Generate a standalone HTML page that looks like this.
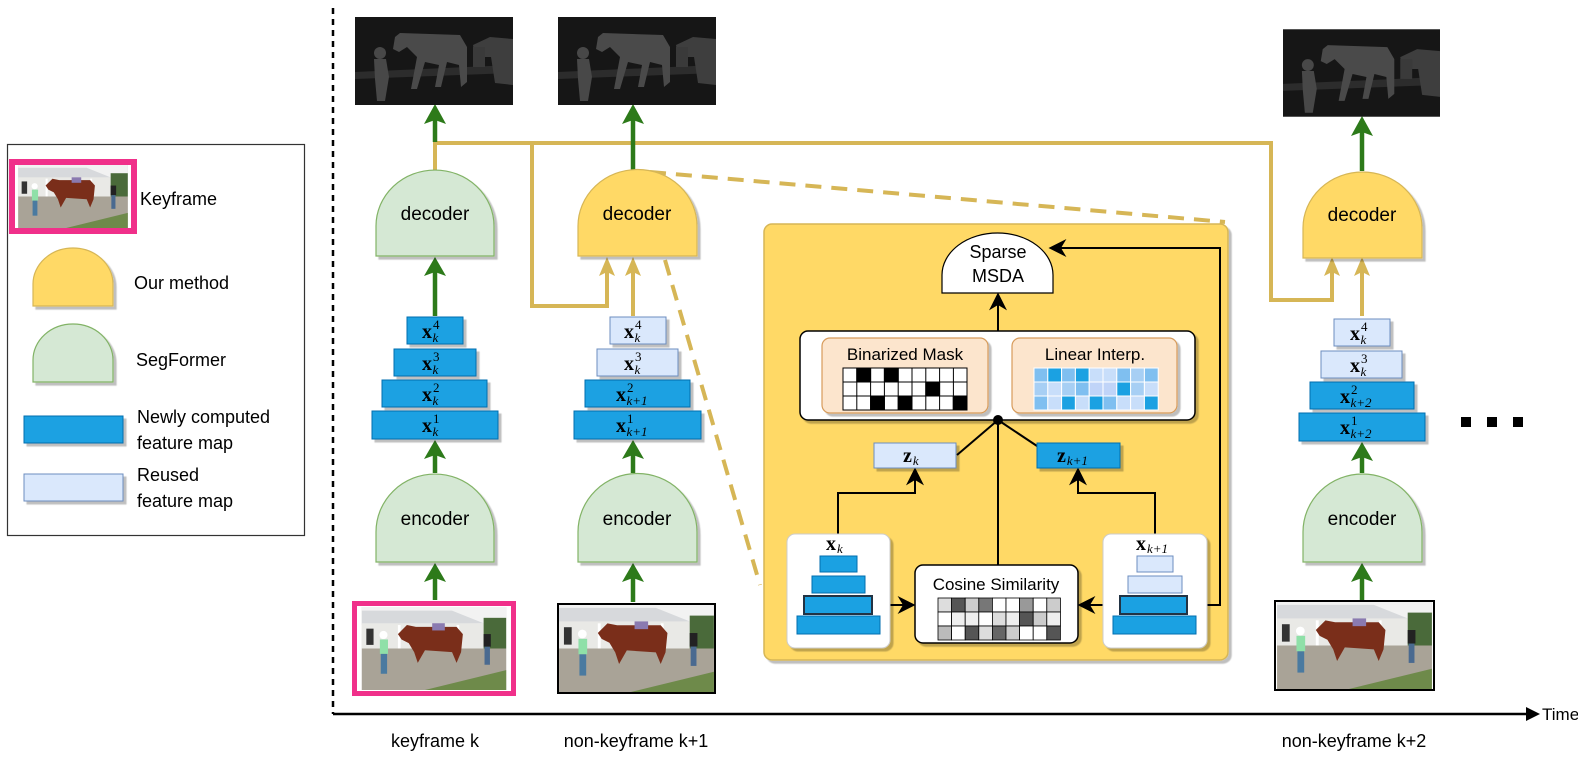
<!DOCTYPE html>
<html><head><meta charset="utf-8"><style>
html,body{margin:0;padding:0;background:#fff}
svg{display:block}
.t{font-family:"Liberation Sans",sans-serif;fill:#000}
.m{font-family:"Liberation Serif",serif;font-weight:bold;font-size:20px;fill:#000}
.sp{font-size:13px;font-weight:normal}
.sb{font-size:13px;font-weight:normal;font-style:italic}
</style></head><body>
<svg width="1578" height="758" viewBox="0 0 1578 758" xmlns="http://www.w3.org/2000/svg">
<defs>
<filter id="sh" x="-10%" y="-10%" width="130%" height="130%"><feDropShadow dx="3" dy="3" stdDeviation="0.5" flood-color="#000" flood-opacity="0.25"/></filter>
<marker id="ag" viewBox="0 0 10 10" refX="5" refY="5" markerWidth="5" markerHeight="5" orient="auto-start-reverse"><path d="M0,0 L10,5 L0,10 L3,5 Z" fill="#2d7a1a"/></marker>
<marker id="at" viewBox="0 0 10 10" refX="5" refY="5" markerWidth="5" markerHeight="5" orient="auto-start-reverse"><path d="M0,0 L10,5 L0,10 L3,5 Z" fill="#d6b656"/></marker>
<marker id="ak" viewBox="0 0 10 10" refX="8" refY="5" markerWidth="9" markerHeight="9" orient="auto-start-reverse"><path d="M0,0 L10,5 L0,10 L3,5 Z" fill="#000"/></marker>
<symbol id="photo" viewBox="0 0 160 92">
<rect width="160" height="92" fill="#c9c6c0"/>
<rect width="160" height="30" fill="#f2f2f2"/>
<path d="M0,4 L100,4 L135,18 L0,20 Z" fill="#d7d9dc"/>
<rect x="0" y="18" width="135" height="28" fill="#e9e9e6"/>
<rect x="5" y="24" width="8" height="18" fill="#333"/>
<rect x="40" y="20" width="3" height="26" fill="#fff"/>
<rect x="105" y="20" width="3" height="26" fill="#fff"/>
<rect x="135" y="12" width="25" height="34" fill="#4a6a3a"/>
<rect x="0" y="46" width="160" height="46" fill="#a9a397"/>
<path d="M70,92 L160,70 L160,92 Z" fill="#6e8a4a"/>
<path d="M40,30 L50,20 L60,22 L105,22 L112,30 L110,50 L105,62 L100,50 L70,48 L62,62 L58,50 L52,40 L44,36 Z" fill="#7a2e1a"/>
<rect x="78" y="18" width="14" height="8" fill="#8a7ab0"/>
<rect x="20" y="36" width="9" height="16" fill="#8fe0a8"/>
<rect x="21" y="52" width="7" height="22" fill="#4a7aa0"/>
<circle cx="24" cy="31" r="4.5" fill="#fff"/>
<rect x="135" y="30" width="8" height="14" fill="#222"/>
<rect x="136" y="44" width="6" height="20" fill="#4a6a90"/>
</symbol>
<symbol id="seg" viewBox="0 0 158 88">
<rect width="158" height="88" fill="#161616"/>
<path d="M0,55 L158,48 L158,56 L0,62 Z" fill="#2c2c2c"/>
<path d="M40,20 L45,16 L105,18 L112,30 L112,65 L106,70 L104,48 L92,45 L86,70 L80,70 L84,48 L70,45 L62,72 L56,72 L62,40 L52,30 L44,35 L38,32 Z" fill="#4a4a4a"/>
<circle cx="25" cy="36" r="6" fill="#484848"/>
<path d="M19,42 L31,42 L34,60 L30,84 L22,84 L20,62 Z" fill="#484848"/>
<path d="M118,28 L135,20 L158,22 L158,68 L140,66 L136,40 L120,40 Z" fill="#3e3e3e"/>
<rect x="118" y="30" width="12" height="20" fill="#3a3a3a"/>
</symbol>
</defs>

<!-- legend -->
<rect x="7.5" y="144.5" width="297" height="391" fill="#fff" stroke="#333" stroke-width="1.2"/>
<rect x="12" y="162" width="122" height="69" fill="none" stroke="#f0308a" stroke-width="6"/>
<use href="#photo" x="15" y="165" width="116" height="63" preserveAspectRatio="none"/>
<text class="t" x="140" y="205" font-size="18">Keyframe</text>
<path d="M33,306 L33,284 A40,36 0 0 1 113,284 L113,306 Z" fill="#ffd966" stroke="#d6b656" stroke-width="1.2" filter="url(#sh)"/>
<text class="t" x="134" y="289" font-size="18">Our method</text>
<path d="M33,382 L33,360 A40,36 0 0 1 113,360 L113,382 Z" fill="#d5e8d4" stroke="#82b366" stroke-width="1.2" filter="url(#sh)"/>
<text class="t" x="136" y="366" font-size="18">SegFormer</text>
<rect x="24" y="416" width="99" height="27" fill="#1ba1e2" stroke="#006eaf" filter="url(#sh)"/>
<text class="t" x="137" y="423" font-size="18">Newly computed</text>
<text class="t" x="137" y="449" font-size="18">feature map</text>
<rect x="24" y="474" width="99" height="27" fill="#dae8fc" stroke="#6c8ebf" filter="url(#sh)"/>
<text class="t" x="137" y="481" font-size="18">Reused</text>
<text class="t" x="137" y="507" font-size="18">feature map</text>

<!-- dashed divider and time axis -->
<line x1="333" y1="8" x2="333" y2="714" stroke="#000" stroke-width="2.5" stroke-dasharray="6 5"/>
<line x1="333" y1="714" x2="1528" y2="714" stroke="#000" stroke-width="2.5"/>
<path d="M1526,707 L1540,714 L1526,721 Z" fill="#000"/>
<text class="t" x="1542" y="720" font-size="17">Time</text>

<!-- tan connectors -->
<g fill="none" stroke="#d6b656" stroke-width="4">
<path d="M435,170 L435,143 L1271,143 L1271,300 L1332,300 L1332,268"/>
<path d="M532,143 L532,306 L607,306 L607,268"/>
<line x1="633" y1="316" x2="633" y2="268"/>
<line x1="1362" y1="316" x2="1362" y2="268"/>
<path d="M650,172 L1225,222" stroke-dasharray="16 10"/>
<path d="M665,260 L760,585" stroke-dasharray="16 10"/>
</g>
<g fill="#d6b656">
<path d="M599,276 L607,257 L615,276 L607,272 Z"/>
<path d="M625,276 L633,257 L641,276 L633,272 Z"/>
<path d="M1324,276 L1332,257 L1340,276 L1332,272 Z"/>
<path d="M1354,276 L1362,257 L1370,276 L1362,272 Z"/>
</g>

<!-- green arrows -->
<g stroke="#2d7a1a" stroke-width="4.5">
<line x1="435" y1="142" x2="435" y2="120"/>
<line x1="633" y1="170" x2="633" y2="120"/>
<line x1="1362" y1="171" x2="1362" y2="132"/>
<line x1="435" y1="316" x2="435" y2="272"/>
<line x1="435" y1="473" x2="435" y2="455"/>
<line x1="633" y1="473" x2="633" y2="455"/>
<line x1="1362" y1="473" x2="1362" y2="457"/>
<line x1="435" y1="600" x2="435" y2="578"/>
<line x1="633" y1="602" x2="633" y2="578"/>
<line x1="1362" y1="602" x2="1362" y2="578"/>
</g>
<g fill="#2d7a1a">
<path d="M424,124 L435,104 L446,124 L435,120 Z"/>
<path d="M622,124 L633,104 L644,124 L633,120 Z"/>
<path d="M1351,136 L1362,116 L1373,136 L1362,132 Z"/>
<path d="M424,276 L435,257 L446,276 L435,272 Z"/>
<path d="M424,459 L435,440 L446,459 L435,455 Z"/>
<path d="M622,459 L633,440 L644,459 L633,455 Z"/>
<path d="M1351,461 L1362,442 L1373,461 L1362,457 Z"/>
<path d="M424,582 L435,563 L446,582 L435,578 Z"/>
<path d="M622,582 L633,563 L644,582 L633,578 Z"/>
<path d="M1351,582 L1362,563 L1373,582 L1362,578 Z"/>
</g>

<!-- outputs -->
<use href="#seg" x="355" y="17" width="158" height="88" preserveAspectRatio="none"/>
<use href="#seg" x="558" y="17" width="158" height="88" preserveAspectRatio="none"/>
<use href="#seg" x="1283" y="29" width="157" height="88" preserveAspectRatio="none"/>

<!-- decoders -->
<path d="M376,256 L376,226 A59,56 0 0 1 494,226 L494,256 Z" fill="#d5e8d4" stroke="#82b366" stroke-width="1.2" filter="url(#sh)"/>
<text class="t" x="435" y="220" font-size="19" text-anchor="middle">decoder</text>
<path d="M578,256 L578,226 A59,56 0 0 1 697,226 L697,256 Z" fill="#ffd966" stroke="#d6b656" stroke-width="1.2" filter="url(#sh)"/>
<text class="t" x="637" y="220" font-size="19" text-anchor="middle">decoder</text>
<path d="M1303,258 L1303,228 A59.5,56 0 0 1 1422,228 L1422,258 Z" fill="#ffd966" stroke="#d6b656" stroke-width="1.2" filter="url(#sh)"/>
<text class="t" x="1362" y="221" font-size="19" text-anchor="middle">decoder</text>

<!-- encoders -->
<path d="M376,562 L376,532 A59,58 0 0 1 494,532 L494,562 Z" fill="#d5e8d4" stroke="#82b366" stroke-width="1.2" filter="url(#sh)"/>
<text class="t" x="435" y="525" font-size="19" text-anchor="middle">encoder</text>
<path d="M578,562 L578,532 A59,58 0 0 1 697,532 L697,562 Z" fill="#d5e8d4" stroke="#82b366" stroke-width="1.2" filter="url(#sh)"/>
<text class="t" x="637" y="525" font-size="19" text-anchor="middle">encoder</text>
<path d="M1303,562 L1303,532 A59.5,58 0 0 1 1422,532 L1422,562 Z" fill="#d5e8d4" stroke="#82b366" stroke-width="1.2" filter="url(#sh)"/>
<text class="t" x="1362" y="525" font-size="19" text-anchor="middle">encoder</text>

<!-- stacks column 1 -->
<g stroke="#006eaf" fill="#1ba1e2" filter="url(#sh)">
<rect x="407" y="317" width="56" height="27"/>
<rect x="394" y="349" width="82" height="27"/>
<rect x="382" y="380" width="105" height="27"/>
<rect x="372" y="411" width="126" height="28"/>
<rect x="585" y="380" width="105" height="27"/>
<rect x="574" y="411" width="127" height="28"/>
<rect x="1310" y="382" width="104" height="27"/>
<rect x="1299" y="413" width="126" height="28"/>
</g>
<g stroke="#6c8ebf" fill="#dae8fc" filter="url(#sh)">
<rect x="610" y="317" width="56" height="27"/>
<rect x="597" y="349" width="81" height="27"/>
<rect x="1334" y="319" width="56" height="27"/>
<rect x="1321" y="351" width="81" height="27"/>
</g>
<text class="m" x="422" y="338">x<tspan class="sp" dx="1" dy="-9">4</tspan><tspan class="sb" dx="-7" dy="13">k</tspan></text>
<text class="m" x="422" y="370">x<tspan class="sp" dx="1" dy="-9">3</tspan><tspan class="sb" dx="-7" dy="13">k</tspan></text>
<text class="m" x="422" y="401">x<tspan class="sp" dx="1" dy="-9">2</tspan><tspan class="sb" dx="-7" dy="13">k</tspan></text>
<text class="m" x="422" y="432">x<tspan class="sp" dx="1" dy="-9">1</tspan><tspan class="sb" dx="-7" dy="13">k</tspan></text>
<text class="m" x="624" y="338">x<tspan class="sp" dx="1" dy="-9">4</tspan><tspan class="sb" dx="-7" dy="13">k</tspan></text>
<text class="m" x="624" y="370">x<tspan class="sp" dx="1" dy="-9">3</tspan><tspan class="sb" dx="-7" dy="13">k</tspan></text>
<text class="m" x="616" y="401">x<tspan class="sp" dx="1" dy="-9">2</tspan><tspan class="sb" dx="-7" dy="13">k+1</tspan></text>
<text class="m" x="616" y="432">x<tspan class="sp" dx="1" dy="-9">1</tspan><tspan class="sb" dx="-7" dy="13">k+1</tspan></text>
<text class="m" x="1350" y="340">x<tspan class="sp" dx="1" dy="-9">4</tspan><tspan class="sb" dx="-7" dy="13">k</tspan></text>
<text class="m" x="1350" y="372">x<tspan class="sp" dx="1" dy="-9">3</tspan><tspan class="sb" dx="-7" dy="13">k</tspan></text>
<text class="m" x="1340" y="403">x<tspan class="sp" dx="1" dy="-9">2</tspan><tspan class="sb" dx="-7" dy="13">k+2</tspan></text>
<text class="m" x="1340" y="434">x<tspan class="sp" dx="1" dy="-9">1</tspan><tspan class="sb" dx="-7" dy="13">k+2</tspan></text>

<!-- dots -->
<rect x="1461" y="417" width="10" height="10" fill="#000"/>
<rect x="1487" y="417" width="10" height="10" fill="#000"/>
<rect x="1513" y="417" width="10" height="10" fill="#000"/>

<!-- input frames -->
<rect x="354.5" y="603.5" width="159" height="90" fill="none" stroke="#f0308a" stroke-width="5"/>
<use href="#photo" x="358" y="607" width="152" height="83" preserveAspectRatio="none"/>
<use href="#photo" x="558" y="604" width="157" height="89" preserveAspectRatio="none"/>
<rect x="558" y="604" width="157" height="89" fill="none" stroke="#000" stroke-width="2"/>
<use href="#photo" x="1275" y="601" width="159" height="89" preserveAspectRatio="none"/>
<rect x="1275" y="601" width="159" height="89" fill="none" stroke="#000" stroke-width="2"/>

<text class="t" x="435" y="747" font-size="18" text-anchor="middle">keyframe k</text>
<text class="t" x="636" y="747" font-size="18" text-anchor="middle">non-keyframe k+1</text>
<text class="t" x="1354" y="747" font-size="18" text-anchor="middle">non-keyframe k+2</text>

<!-- center panel -->
<rect x="764" y="224" width="464" height="436" rx="8" fill="#ffd966" stroke="#d6b656" stroke-width="1.5" filter="url(#sh)"/>
<path d="M942,293 L942,275 A55.5,42 0 0 1 1053,275 L1053,293 Z" fill="#fff" stroke="#000" stroke-width="1.2"/>
<text class="t" x="998" y="258" font-size="18" text-anchor="middle">Sparse</text>
<text class="t" x="998" y="282" font-size="18" text-anchor="middle">MSDA</text>
<g stroke="#000" stroke-width="2" fill="none">
<path d="M1196,605 L1220,605 L1220,248 L1052,248" marker-end="url(#ak)"/>
<path d="M998,331 L998,296" marker-end="url(#ak)"/>
<line x1="998" y1="420" x2="957" y2="455"/>
<line x1="998" y1="420" x2="1037" y2="446"/>
<line x1="998" y1="420" x2="998" y2="565"/>
<path d="M838,534 L838,493 L915,493 L915,471" marker-end="url(#ak)"/>
<path d="M1155,534 L1155,493 L1078,493 L1078,471" marker-end="url(#ak)"/>
<path d="M873,605 L912,605" marker-end="url(#ak)"/>
<path d="M1120,605 L1081,605" marker-end="url(#ak)"/>
</g>
<rect x="800" y="331" width="395" height="89" rx="8" fill="#fff" stroke="#000" stroke-width="1.5" filter="url(#sh)"/>
<circle cx="998" cy="420" r="5" fill="#000"/>
<rect x="822" y="338" width="166" height="75" rx="8" fill="#fce5cd" stroke="#d79b5a" stroke-width="1.2" filter="url(#sh)"/>
<rect x="1012" y="338" width="165" height="75" rx="8" fill="#fce5cd" stroke="#d79b5a" stroke-width="1.2" filter="url(#sh)"/>
<text class="t" x="905" y="360" font-size="17" text-anchor="middle">Binarized Mask</text>
<text class="t" x="1095" y="360" font-size="17" text-anchor="middle">Linear Interp.</text>
<!-- binarized grid -->
<g stroke="#000" stroke-width="1">
<rect x="843" y="368" width="124" height="42" fill="#fff"/>
<rect x="856.8" y="368" width="13.8" height="14" fill="#000"/>
<rect x="884.4" y="368" width="13.8" height="14" fill="#000"/>
<rect x="925.8" y="382" width="13.8" height="14" fill="#000"/>
<rect x="870.6" y="396" width="13.8" height="14" fill="#000"/>
<rect x="898.2" y="396" width="13.8" height="14" fill="#000"/>
<rect x="953.2" y="396" width="13.8" height="14" fill="#000"/>
<path d="M856.8,368V410M870.6,368V410M884.4,368V410M898.2,368V410M912,368V410M925.8,368V410M939.6,368V410M953.4,368V410M843,382H967M843,396H967" fill="none"/>
</g>
<!-- linear interp grid -->
<g stroke="#fff" stroke-width="1">
<rect x="1034" y="368" width="13.8" height="14" fill="#7fbff0"/><rect x="1047.8" y="368" width="13.8" height="14" fill="#1ba1e2"/><rect x="1061.6" y="368" width="13.8" height="14" fill="#7fbff0"/><rect x="1075.4" y="368" width="13.8" height="14" fill="#1ba1e2"/><rect x="1089.2" y="368" width="13.8" height="14" fill="#c8defa"/><rect x="1103" y="368" width="13.8" height="14" fill="#c8defa"/><rect x="1116.8" y="368" width="13.8" height="14" fill="#7fbff0"/><rect x="1130.6" y="368" width="13.8" height="14" fill="#a7cff4"/><rect x="1144.4" y="368" width="13.8" height="14" fill="#7fbff0"/>
<rect x="1034" y="382" width="13.8" height="14" fill="#a7cff4"/><rect x="1047.8" y="382" width="13.8" height="14" fill="#c8defa"/><rect x="1061.6" y="382" width="13.8" height="14" fill="#a7cff4"/><rect x="1075.4" y="382" width="13.8" height="14" fill="#7fbff0"/><rect x="1089.2" y="382" width="13.8" height="14" fill="#c0d4f8"/><rect x="1103" y="382" width="13.8" height="14" fill="#c0d4f8"/><rect x="1116.8" y="382" width="13.8" height="14" fill="#1ba1e2"/><rect x="1130.6" y="382" width="13.8" height="14" fill="#a7cff4"/><rect x="1144.4" y="382" width="13.8" height="14" fill="#c8defa"/>
<rect x="1034" y="396" width="13.8" height="14" fill="#7fbff0"/><rect x="1047.8" y="396" width="13.8" height="14" fill="#c8defa"/><rect x="1061.6" y="396" width="13.8" height="14" fill="#1ba1e2"/><rect x="1075.4" y="396" width="13.8" height="14" fill="#c8defa"/><rect x="1089.2" y="396" width="13.8" height="14" fill="#1ba1e2"/><rect x="1103" y="396" width="13.8" height="14" fill="#7fbff0"/><rect x="1116.8" y="396" width="13.8" height="14" fill="#c8defa"/><rect x="1130.6" y="396" width="13.8" height="14" fill="#c8defa"/><rect x="1144.4" y="396" width="13.8" height="14" fill="#1ba1e2"/>
</g>
<!-- z boxes -->
<rect x="874" y="443" width="82" height="25" fill="#dae8fc" stroke="#6c8ebf" filter="url(#sh)"/>
<text class="m" x="903" y="462">z<tspan class="sb" dx="1" dy="3">k</tspan></text>
<rect x="1037" y="443" width="83" height="25" fill="#1ba1e2" stroke="#006eaf" filter="url(#sh)"/>
<text class="m" x="1057" y="462">z<tspan class="sb" dx="1" dy="3" font-size="15">k+1</tspan></text>
<!-- xk box -->
<rect x="787" y="534" width="103" height="114" rx="8" fill="#fff" stroke="#ccc" filter="url(#sh)"/>
<text class="m" x="826" y="550">x<tspan class="sb" dx="1" dy="3" font-size="15">k</tspan></text>
<g stroke="#006eaf" fill="#1ba1e2">
<rect x="820" y="556" width="37" height="16"/>
<rect x="812" y="576" width="53" height="17"/>
<rect x="804" y="596" width="68" height="18" stroke="#234" stroke-width="2"/>
<rect x="797" y="616" width="83" height="18"/>
</g>
<rect x="1103" y="534" width="104" height="114" rx="8" fill="#fff" stroke="#ccc" filter="url(#sh)"/>
<text class="m" x="1136" y="550">x<tspan class="sb" dx="1" dy="3" font-size="15">k+1</tspan></text>
<g stroke="#6c8ebf" fill="#dae8fc">
<rect x="1137" y="556" width="36" height="16"/>
<rect x="1128" y="576" width="54" height="17"/>
</g>
<g stroke="#006eaf" fill="#1ba1e2">
<rect x="1120" y="596" width="67" height="18" stroke="#234" stroke-width="2"/>
<rect x="1113" y="616" width="83" height="18"/>
</g>
<!-- cosine -->
<rect x="915" y="565" width="163" height="78" rx="8" fill="#fff" stroke="#000" stroke-width="1.5" filter="url(#sh)"/>
<text class="t" x="996" y="590" font-size="17" text-anchor="middle">Cosine Similarity</text>
<g stroke="#000" stroke-width="0.8">
<rect x="938" y="598" width="13.6" height="14" fill="#ddd"/><rect x="951.6" y="598" width="13.6" height="14" fill="#555"/><rect x="965.2" y="598" width="13.6" height="14" fill="#ccc"/><rect x="978.8" y="598" width="13.6" height="14" fill="#777"/><rect x="992.4" y="598" width="13.6" height="14" fill="#fff"/><rect x="1006" y="598" width="13.6" height="14" fill="#fff"/><rect x="1019.6" y="598" width="13.6" height="14" fill="#999"/><rect x="1033.2" y="598" width="13.6" height="14" fill="#fff"/><rect x="1046.8" y="598" width="13.6" height="14" fill="#ccc"/>
<rect x="938" y="612" width="13.6" height="14" fill="#fff"/><rect x="951.6" y="612" width="13.6" height="14" fill="#eee"/><rect x="965.2" y="612" width="13.6" height="14" fill="#eee"/><rect x="978.8" y="612" width="13.6" height="14" fill="#fff"/><rect x="992.4" y="612" width="13.6" height="14" fill="#ddd"/><rect x="1006" y="612" width="13.6" height="14" fill="#eee"/><rect x="1019.6" y="612" width="13.6" height="14" fill="#555"/><rect x="1033.2" y="612" width="13.6" height="14" fill="#ccc"/><rect x="1046.8" y="612" width="13.6" height="14" fill="#eee"/>
<rect x="938" y="626" width="13.6" height="14" fill="#bbb"/><rect x="951.6" y="626" width="13.6" height="14" fill="#fff"/><rect x="965.2" y="626" width="13.6" height="14" fill="#555"/><rect x="978.8" y="626" width="13.6" height="14" fill="#ddd"/><rect x="992.4" y="626" width="13.6" height="14" fill="#666"/><rect x="1006" y="626" width="13.6" height="14" fill="#ccc"/><rect x="1019.6" y="626" width="13.6" height="14" fill="#fff"/><rect x="1033.2" y="626" width="13.6" height="14" fill="#fff"/><rect x="1046.8" y="626" width="13.6" height="14" fill="#555"/>
</g>
</svg>
</body></html>
